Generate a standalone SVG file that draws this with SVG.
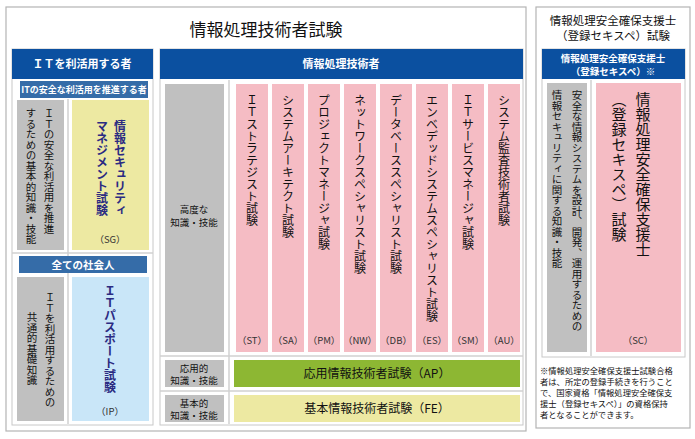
<svg xmlns="http://www.w3.org/2000/svg" width="695" height="439" viewBox="0 0 695 439">
<style>
text{font-family:"Noto Sans CJK JP","Noto Sans CJK SC",sans-serif;fill:#111}
.frame{fill:#fff;stroke:#b4b4b4;stroke-width:1.2}
.box{fill:#fff;stroke:#c8c8c8;stroke-width:1}
.hd{fill:#0b50a0}
.sub{fill:#356ca8}
.gray{fill:#c0c0c0}
.pink{fill:#f5bcc4}
.yel{fill:#ede9a2}
.lb{fill:#c9e6f8}
.grn{fill:#8db733}
.ht{fill:#fff;font-size:11px;font-weight:bold;text-anchor:middle}
.v{writing-mode:vertical-rl;font-size:12px}
.vs{writing-mode:vertical-rl;font-size:10.5px}
.c{font-size:9.5px;text-anchor:middle}
.ab{font-size:9.5px;text-anchor:middle;fill:#333}
.line{stroke:#d0d0d0;stroke-width:1.5}
.tb{fill:#2b2b82;font-weight:bold}
</style>
<rect x="0" y="0" width="695" height="439" fill="#fff"/>
<rect class="frame" x="6" y="7" width="520" height="424"/>
<rect class="frame" x="536" y="7" width="154" height="421"/>
<text x="266" y="36" font-size="17" text-anchor="middle">情報処理技術者試験</text>

<g id="left-it">
<rect class="box" x="12" y="49" width="141" height="376"/>
<rect class="hd" x="12" y="49" width="141" height="30"/>
<text class="ht" x="82" y="68" font-size="12">ＩＴを利活用する者</text>
<rect class="sub" x="20" y="81" width="128" height="17"/>
<text class="ht" x="84" y="93" style="font-size:9px">ITの安全な利活用を推進する者</text>
<line class="line" x1="68" y1="99" x2="68" y2="424"/>
<line class="line" x1="12" y1="253" x2="153" y2="253"/>
</g>
<g id="sg-desc">
<rect class="gray" x="17" y="100" width="47" height="150"/>
<text class="vs" x="49" y="108">ＩＴの安全な利活用を推進</text>
<text class="vs" x="31" y="108">するための基本的知識・技能</text>
</g>
<g id="sg">
<rect class="yel" x="72" y="100" width="77" height="150"/>
<text class="v tb" x="120" y="120">情報セキュリティ</text>
<text class="v tb" x="102" y="120">マネジメント試験</text>
<text class="ab" x="110" y="243">（SG）</text>
</g>
<g id="all">
<rect class="sub" x="19" y="256" width="128" height="17"/>
<text class="ht" x="83" y="269" style="font-size:10.5px">全ての社会人</text>
</g>
<g id="ip-desc">
<rect class="gray" x="17" y="277" width="47" height="144"/>
<text class="vs" x="50" y="292">ＩＴを利活用するための</text>
<text class="vs" x="32" y="312">共通的基礎知識</text>
</g>
<g id="ip">
<rect class="lb" x="72" y="277" width="77" height="144"/>
<text class="v tb" x="110" y="285">ＩＴパスポート試験</text>
<text class="ab" x="110" y="415">（IP）</text>
</g>

<g id="mid">
<rect class="box" x="160" y="49" width="363" height="376"/>
<rect class="hd" x="160" y="49" width="363" height="30"/>
<text class="ht" x="341" y="68">情報処理技術者</text>
<line class="line" x1="229" y1="80" x2="229" y2="424"/>
<line class="line" x1="160" y1="356" x2="523" y2="356"/>
<line class="line" x1="160" y1="391" x2="523" y2="391"/>
</g>
<g id="adv-label">
<rect class="gray" x="165" y="84" width="59" height="268"/>
<text class="c" x="194" y="213">高度な</text>
<text class="c" x="194" y="226">知識・技能</text>
</g>
<g id="st"><rect class="pink" x="236" y="84" width="32" height="268"/><text class="v" x="252" y="94">ＩＴストラテジスト試験</text><text class="ab" x="252" y="344">（ST）</text></g>
<g id="sa"><rect class="pink" x="272" y="84" width="32" height="268"/><text class="v" x="288" y="94">システムアーキテクト試験</text><text class="ab" x="288" y="344">（SA）</text></g>
<g id="pm"><rect class="pink" x="308" y="84" width="32" height="268"/><text class="v" x="324" y="94">プロジェクトマネージャ試験</text><text class="ab" x="324" y="344">（PM）</text></g>
<g id="nw"><rect class="pink" x="344" y="84" width="32" height="268"/><text class="v" x="360" y="94">ネットワークスペシャリスト試験</text><text class="ab" x="360" y="344">（NW）</text></g>
<g id="db"><rect class="pink" x="380" y="84" width="32" height="268"/><text class="v" x="396" y="94">データベーススペシャリスト試験</text><text class="ab" x="396" y="344">（DB）</text></g>
<g id="es"><rect class="pink" x="416" y="84" width="32" height="268"/><text class="v" x="432" y="94">エンベデッドシステムスペシャリスト試験</text><text class="ab" x="432" y="344">（ES）</text></g>
<g id="sm"><rect class="pink" x="452" y="84" width="32" height="268"/><text class="v" x="468" y="94">ＩＴサービスマネージャ試験</text><text class="ab" x="468" y="344">（SM）</text></g>
<g id="au"><rect class="pink" x="488" y="84" width="32" height="268"/><text class="v" x="504" y="94">システム監査技術者試験</text><text class="ab" x="504" y="344">（AU）</text></g>
<g id="ap-label">
<rect class="gray" x="165" y="360" width="59" height="27"/>
<text class="c" x="194" y="371.5">応用的</text>
<text class="c" x="194" y="384">知識・技能</text>
</g>
<g id="ap">
<rect class="grn" x="234" y="360" width="286" height="27"/>
<text x="377" y="378" font-size="12" text-anchor="middle">応用情報技術者試験（AP）</text>
</g>
<g id="fe-label">
<rect class="gray" x="165" y="395" width="59" height="27"/>
<text class="c" x="194" y="406.5">基本的</text>
<text class="c" x="194" y="419">知識・技能</text>
</g>
<g id="fe">
<rect class="yel" x="234" y="395" width="286" height="27"/>
<text x="377" y="413" font-size="12" text-anchor="middle">基本情報技術者試験（FE）</text>
</g>

<g id="right">
<text x="613" y="25" font-size="11.5" text-anchor="middle">情報処理安全確保支援士</text>
<text x="613" y="40" font-size="11.5" text-anchor="middle">（登録セキスペ）試験</text>
<rect class="box" x="542" y="49" width="143" height="308"/>
<rect class="hd" x="542" y="49" width="143" height="30"/>
<text class="ht" x="613" y="61.5" style="font-size:9.5px">情報処理安全確保支援士</text>
<text class="ht" x="613" y="75" style="font-size:9.5px">（登録セキスペ）※</text>
<line class="line" x1="591" y1="80" x2="591" y2="356"/>
</g>
<g id="sc-desc">
<rect class="gray" x="547" y="83" width="40" height="269"/>
<text class="vs" x="577" y="90">安全な情報システムを設計、開発、運用するための</text>
<text class="vs" x="557" y="90">情報セキュリティに関する知識・技能</text>
</g>
<g id="sc">
<rect class="pink" x="596" y="83" width="85" height="269"/>
<text x="643" y="92" style="writing-mode:vertical-rl" font-size="15">情報処理安全確保支援士</text>
<text x="619" y="92" style="writing-mode:vertical-rl" font-size="15">（登録セキスペ）試験</text>
<text class="ab" x="638" y="344">（SC）</text>
</g>
<g id="note" font-size="8.3">
<text x="540" y="374">※情報処理安全確保支援士試験合格</text>
<text x="540" y="385">者は、所定の登録手続きを行うこと</text>
<text x="540" y="396">で、国家資格「情報処理安全確保支</text>
<text x="540" y="407">援士（登録セキスペ）」の資格保持</text>
<text x="540" y="418">者となることができます。</text>
</g>
</svg>
